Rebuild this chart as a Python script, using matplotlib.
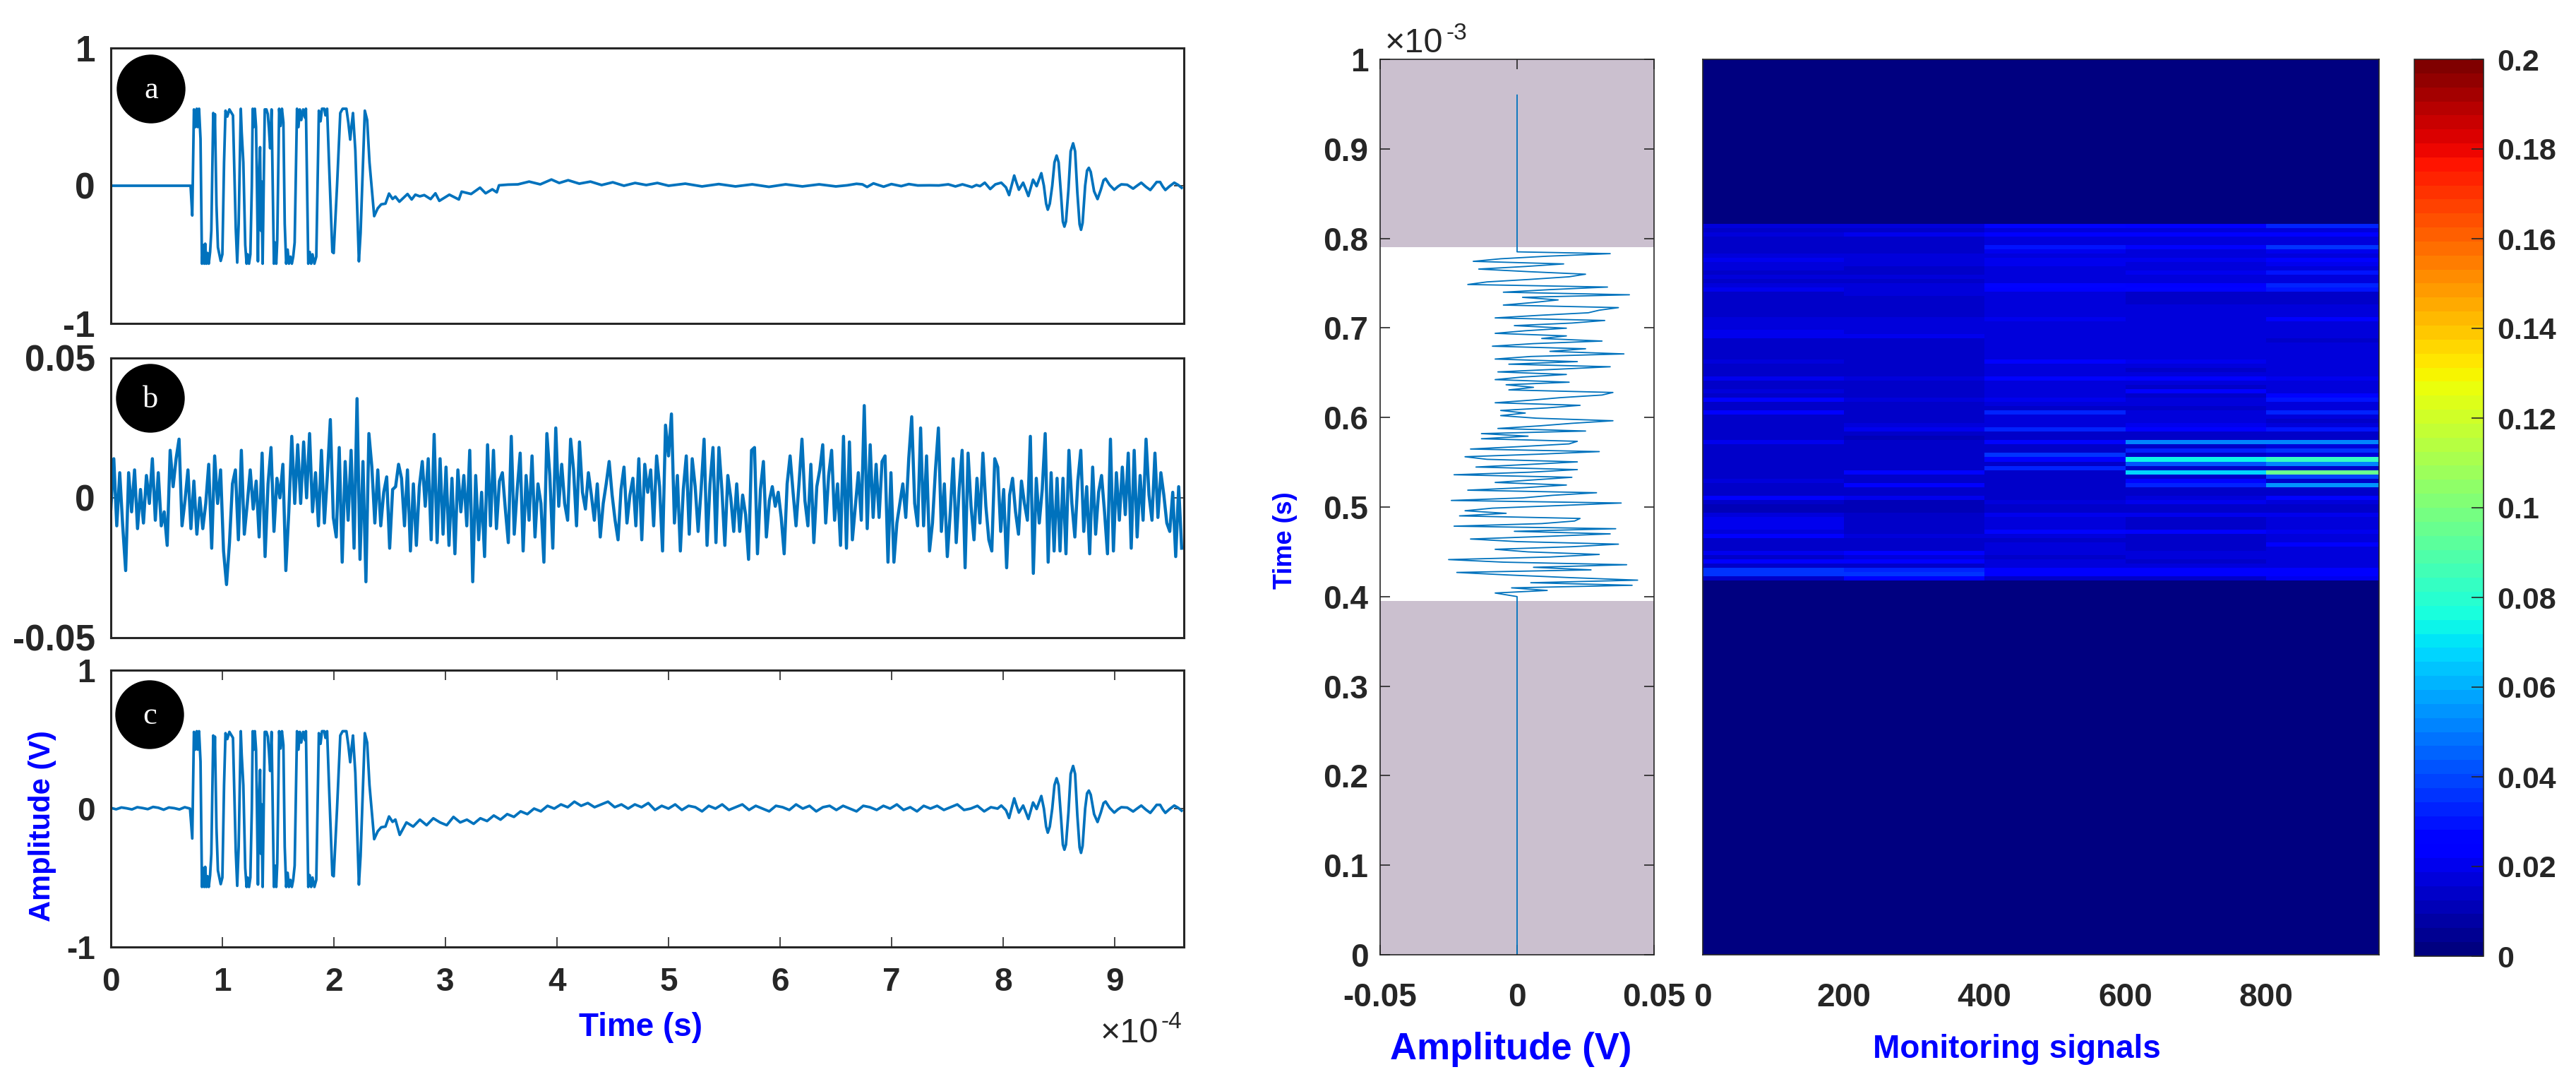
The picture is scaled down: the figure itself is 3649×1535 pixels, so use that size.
import numpy as np
import matplotlib
matplotlib.use("Agg")
import matplotlib.pyplot as plt
from matplotlib.patches import Ellipse

plt.rcParams['font.family'] = ['Liberation Sans', 'DejaVu Sans']
plt.rcParams['font.weight'] = 'bold'

# clean signal, time in 1e-4 s
a_time = [0, 0.652, 0.715, 0.730, 0.745, 0.757, 0.770, 0.779, 0.791, 0.804, 0.817, 0.829, 0.838, 0.846, 0.857, 0.867, 0.878, 0.890, 0.901, 0.918, 0.928, 0.933, 0.947, 0.960, 0.985, 1.000, 1.015, 1.028, 1.044, 1.063, 1.095, 1.120, 1.133, 1.146, 1.165, 1.173, 1.188, 1.205, 1.217, 1.226, 1.239, 1.251, 1.264, 1.272, 1.281, 1.291, 1.302, 1.310, 1.319, 1.327, 1.338, 1.346, 1.350, 1.361, 1.380, 1.395, 1.407, 1.418, 1.428, 1.441, 1.462, 1.471, 1.483, 1.492, 1.509, 1.521, 1.534, 1.547, 1.559, 1.572, 1.585, 1.597, 1.610, 1.623, 1.635, 1.648, 1.669, 1.682, 1.694, 1.707, 1.724, 1.741, 1.749, 1.770, 1.783, 1.796, 1.808, 1.825, 1.842, 1.865, 1.880, 1.893, 1.914, 1.924, 1.939, 1.956, 1.986, 1.998, 2.028, 2.057, 2.078, 2.112, 2.129, 2.146, 2.159, 2.171, 2.192, 2.224, 2.239, 2.277, 2.298, 2.319, 2.361, 2.393, 2.424, 2.462, 2.494, 2.526, 2.551]
a_amp = [0, 0, 0, -.216, .554, .426, .559, .426, .559, .340, -.566, -.430, -.566, -.421, -.566, -.489, -.566, -.481, -.327, .528, .323, .520, -.139, -.447, -.546, -.498, .169, .545, .502, .554, .511, -.310, -.558, -.276, .559, .391, .169, -.430, -.566, -.498, -.566, -.498, 0, .559, .426, .559, .426, 0, -.549, .032, .280, -.327, .032, -.566, .554, .554, .520, .408, .272, .554, -.566, -.412, -.566, -.395, .559, .434, .559, .460, -.276, -.566, -.464, -.566, -.515, -.566, -.515, -.412, .559, .426, .554, .477, .554, .494, .559, -.566, -.481, -.566, -.498, -.566, -.515, .545, .468, .559, .559, .511, .559, .169, -.481, -.489, 0, .528, .559, .559, .460, .335, .443, .528, .255, -.549, -.344, .545, .477, .169, -.221, -.164, -.135, -.130, -.057, -.096, -.079]
a_tail_time = [2.587, 2.66, 2.697, 2.73, 2.77, 2.81, 2.867, 2.91, 2.945, 3.035, 3.12, 3.145, 3.23, 3.31, 3.36, 3.42, 3.46, 3.48, 3.56, 3.65, 3.75, 3.85, 3.95, 4.02, 4.1, 4.2, 4.3, 4.4, 4.5, 4.6, 4.7, 4.8, 4.9, 5.0, 5.15, 5.3, 5.45, 5.6, 5.75, 5.9, 6.05, 6.2, 6.35, 6.5]
a_tail_amp = [-.116, -.06, -.10, -.065, -.077, -.068, -.097, -.055, -.11, -.065, -.10, -.043, -.06, -.014, -.055, -.026, -.048, .003, .008, .01, .03, .01, .045, .02, .04, .015, .03, .005, .025, 0, .02, .005, .02, 0, .015, -.005, .012, -.005, .01, -.008, .01, -.005, .01, -.005]
packet_time = [6.601, 6.685, 6.738, 6.78, 6.837, 6.928, 6.998, 7.086, 7.154, 7.234, 7.34, 7.424, 7.508, 7.572, 7.635, 7.72, 7.76, 7.793, 7.835, 7.884, 7.93, 7.983, 8.025, 8.053, 8.075, 8.099, 8.12, 8.141, 8.179, 8.205, 8.226, 8.268, 8.30, 8.342, 8.365, 8.385, 8.40, 8.418, 8.44, 8.46, 8.479, 8.497, 8.52, 8.535, 8.549, 8.563, 8.585, 8.605, 8.627, 8.645, 8.665, 8.685, 8.698, 8.712, 8.735, 8.752, 8.768, 8.785, 8.815, 8.846, 8.875, 8.90, 8.918, 8.955, 8.996, 9.03, 9.059, 9.112, 9.14, 9.165, 9.2, 9.238, 9.28, 9.319, 9.35, 9.376, 9.407, 9.43, 9.454, 9.49, 9.534, 9.57, 9.6]
packet_amp = [.003, .014, .01, -.009, .017, -.007, .012, -.003, .012, .002, .003, .002, .01, -.005, .01, -.01, .005, -.003, .022, -.024, .01, .022, -.012, -.068, .0, .074, .02, -.029, .022, -.03, -.075, .044, -.003, .091, .0, -.13, -.174, -.13, 0, .17, .219, .17, -.08, -.26, -.297, -.26, -.03, .25, .308, .25, -.05, -.28, -.32, -.27, 0, .11, .13, .10, -.04, -.097, -.03, .04, .051, .005, -.029, -.005, .01, .007, -.008, -.021, .0, .022, -.008, -.031, .0, .027, .027, -.005, -.031, -.005, .022, .005, -.015]

# noise panel, mV
b_mv = [-4, 14, -10, 9, -10, -26, 9, -5, 10, -11,
        3, -9, 8, -2, 14, -8, 9, -10, -5, -17,
        17, 4, 14, 21, -10, -1, 10, -11, 6, -13,
        0, -11, -2, 12, -18, 15, -2, 10, -19, -31,
        -16, 5, 10, -15, 17, -13, -2, 10, -4, 6,
        -14, 16, -21, 5, 18, -12, 7, 0, 12, -26,
        -5, 22, -2, 19, -2, 20, 0, 23, -5, 9,
        -10, 17, -9, 8, 28, -7, -14, 18, -23, 13,
        -8, 17, -18, 35.5, -22, 13, -30, 23, 11, -9,
        10, -10, 2, 7.5, -18, 3, 4, 12, 7, -10,
        10, -19, 5, -17, 4, 13, -3, 14, -15, 22.7,
        -16, 14, -13, 11, -17, 7, -20, 10, -5, 8,
        -10, 17, -30, 8, -15, 2, -21, 19, -10, 17,
        -11, 6, 9, -4, -16, 22, -13, 3, 16, -19,
        8, -8, 15, -14, 5, -2, -23, 23, 8, -18,
        25, -3, 12, -2, -8, 21, 10, -10, 20, 2,
        -4, 9, 1, -8, 5, -14, -2, 5, 13, 1,
        -8, -15, 3, 11, -9, 1, 7, -10, 14, -15,
        12, 2, 10, -10, 15, 4, -19, 26, 15, 30,
        -9, 8, -19, 3, 15, -13, 14, 4, -12, 3,
        21, -17, 5, 18, -16, 18, 3, -17, 8, 0,
        -12, 5, -12, 1, -6, -22, 17, 18, -20, 3,
        13, -14, -1, 4, -3, 2, -7, -20, 5, 15,
        2, -10, 5, 21, -1, -10, 12, -16, 4, 10,
        19, -9, 8, 17, -8, 5, -17, 22, -18, 20,
        -15, -3, 9, -8, 33, -11, 19, -7, 12, -7,
        13, 15, -23, 9, -23, -9, -2, 5, -7, 14,
        29, -2, -10, 25, -10, 15, -19, -9, 10, 25,
        -12, 5, -21, -5, 14, -16, 3, 17, -25, 16,
        -3, -15, 7, -9, 16, -3, -15, -19, 14, 11,
        -12, 3, -25, 1, 7, -5, -13, 6, -2, -8,
        22, -27, 7, -9, 3, 23, -23, 9, -19, 7,
        -19, 7, -20, 17, -2, -14, 6, 17, -12, 4,
        -20, 11, -13, 2, 8, -5, -20, 21, -19, 9,
        -8, 11, -6, 16, -18, 17, -14, 8, -8, 21,
        1, -8, 16, -7, 9, 1, -9, -12, 2, -21, 4, -18]

# noisy signal: own lead in and low tail, burst and packet follow the clean shape
c_lead = [.005, -.005, .008, .002, -.006, .01, .004, -.004, .012, .006, -.008, .008, .003, -.006, .01, .0]
c_low = [-.19, -.10, -.13, -.08, -.12, -.07, -.10, -.12, -.06, -.10, -.08, -.11, -.07, -.09, -.05, -.08, -.04, -.06, -.02, -.04, 0, -.02, .02, .0, .03, .01, .05, .02, .04, .01, .03, .05, .01, .03, 0, .03, .01, .04, -.01, .02, 0, .03, -.01, .02, .01, -.02, .02, 0, .03, -.01, .01, .03, -.01, .02, 0, -.02, .02, .01, -.01, .03, 0, .02, -.02, .01, .02, -.01, .02, 0, -.02, .02, .01, -.01, .02, 0, .03, -.01, .01, -.02, .02, 0, .02, -.01, .01, .03, -.01, 0, .02, -.02, .01, 0]

# recorded trace of the monitoring signal, mV from low to high time
d_mv = [-8, 11, -2, 42, 5, 44, 19, -3, -22, 27, 6, 40, -5, -25, 12, 30, 4, -8, 20, 37, 0, -17, 10, 34, -1, 36, -23, 9, 21, 23, -21, -4, -19, -9, 15, 38, -24, 2, 13, 29, -18, 3, 18, -8, 6, 20, -23, 5, 22, -15, 4, 22, -11, -19, 8, 30, -17, 2, 19, 22, -13, 4, -13, 25, -7, 8, 20, 35, 7, -6, 3, -6, 11, 23, -8, 5, 16, 31, 35, -3, 6, -4, 19, -8, 2, 18, -7, 14, 34, -3, 22, -8, 5, 39, 12, 25, -9, 6, 31, 9, 18, -8, 3, 18, -1, 20, 32, -8, 8, 26, 30, 37, -5, 6, 15, 2, 41, -5, 12, 33, -18, -11, 5, 19, 25, 4, -14, 3, 17, -16, -6, 11, 34]

# heat map rows from high to low time, 1e-3 units, one list per block of monitoring signals
heat_0_200 = [17, 15, 16, 15, 15, 15, 15, 16, 19, 17, 16, 15, 16, 15, 17, 19, 15, 14, 15, 15, 14, 15, 17, 16, 17, 20, 19, 13, 14, 13, 13, 14, 16, 14, 13, 15, 20, 15, 13, 16, 15, 24, 15, 13, 22, 14, 13, 15, 15, 14, 13, 19, 13, 15, 14, 13, 14, 14, 13, 15, 16, 14, 13, 14, 24, 13, 11, 11, 16, 19, 19, 19, 16, 24, 15, 15, 14, 20, 15, 24, 14, 35, 35, 13]
heat_200_400 = [16, 15, 19, 15, 15, 15, 15, 16, 17, 16, 15, 15, 16, 15, 16, 17, 16, 15, 15, 15, 15, 15, 17, 16, 16, 17, 19, 13, 14, 14, 13, 13, 15, 14, 13, 13, 17, 14, 13, 14, 13, 17, 14, 13, 15, 14, 13, 16, 19, 13, 12, 15, 13, 14, 14, 15, 14, 15, 26, 14, 14, 22, 14, 13, 20, 12, 11, 11, 14, 15, 15, 15, 15, 17, 14, 14, 15, 24, 16, 22, 15, 33, 35, 24]
heat_400_600 = [26, 16, 23, 17, 16, 29, 19, 17, 20, 19, 17, 17, 17, 16, 26, 22, 16, 16, 16, 16, 16, 16, 20, 17, 17, 16, 16, 16, 17, 16, 16, 17, 24, 16, 16, 16, 28, 17, 16, 17, 16, 20, 16, 15, 33, 17, 16, 16, 33, 15, 14, 28, 14, 14, 36, 22, 13, 33, 15, 13, 15, 15, 13, 14, 14, 16, 13, 13, 20, 16, 16, 16, 26, 16, 15, 17, 16, 17, 15, 17, 16, 24, 22, 15]
heat_600_800 = [22, 17, 22, 16, 17, 28, 17, 16, 20, 17, 16, 20, 16, 16, 24, 26, 15, 15, 15, 16, 16, 16, 17, 16, 16, 16, 16, 16, 17, 16, 16, 16, 19, 16, 15, 16, 23, 16, 15, 22, 15, 16, 16, 15, 16, 17, 16, 19, 22, 14, 13, 52, 15, 32, 13, 74, 42, 14, 67, 15, 26, 34, 13, 13, 16, 19, 13, 13, 20, 14, 15, 15, 24, 15, 14, 15, 15, 16, 16, 15, 16, 24, 22, 15]
heat_800_960 = [32, 17, 24, 16, 17, 36, 20, 17, 24, 20, 17, 30, 16, 16, 32, 30, 15, 15, 15, 16, 16, 16, 24, 17, 16, 16, 16, 15, 17, 16, 16, 17, 17, 16, 16, 17, 19, 17, 16, 16, 28, 30, 16, 16, 32, 17, 15, 16, 30, 15, 13, 52, 17, 36, 16, 84, 52, 15, 94, 38, 15, 54, 15, 14, 26, 17, 14, 15, 20, 16, 16, 16, 20, 16, 16, 24, 16, 16, 16, 16, 16, 24, 24, 20]
signal_edges = [0, 200, 400, 600, 800, 960]

left_xticks = [0, 1, 2, 3, 4, 5, 6, 7, 8, 9]
time_ticks = [0, .1, .2, .3, .4, .5, .6, .7, .8, .9, 1]
time_labels = ['0', '0.1', '0.2', '0.3', '0.4', '0.5', '0.6', '0.7', '0.8', '0.9', '1']
cbar_ticks = [0, .02, .04, .06, .08, .1, .12, .14, .16, .18, .2]
cbar_labels = ['0', '0.02', '0.04', '0.06', '0.08', '0.1', '0.12', '0.14', '0.16', '0.18', '0.2']

W, H = 3649, 1535
LINE = '#0072BD'
DARK = '#262626'
BLUE = '#0000FF'
fig = plt.figure(figsize=(W / 100, H / 100), dpi=100)


def box(left, top, right, bottom):
    return fig.add_axes([left / W, 1 - bottom / H, (right - left) / W, (bottom - top) / H])


def badge(x, y, letter):
    fig.add_artist(Ellipse((x / W, 1 - y / H), 96 / W, 96 / H, transform=fig.transFigure, color='black', zorder=5))
    fig.text(x / W, 1 - (y + 2) / H, letter, color='white', family='Liberation Serif', weight='normal',
             fontsize=32, ha='center', va='center', zorder=6)


def power(x, y, exponent):
    fig.text(x / W, 1 - y / H, '\u00d710', color=DARK, fontsize=35, weight='normal', ha='left', va='center')
    fig.text((x + 86) / W, 1 - (y - 15) / H, exponent, color=DARK, fontsize=24, weight='normal', ha='left', va='center')


def style(ax, spine_width, tick_size):
    for s in ax.spines.values():
        s.set_linewidth(spine_width)
        s.set_color(DARK)
    ax.tick_params(direction='in', length=10, width=1.2, color=DARK, labelcolor=DARK,
                   labelsize=tick_size, top=True, right=True)


# left column
ax_a = box(157, 68, 1677, 458)
ax_a.plot(a_time + a_tail_time + packet_time, a_amp + a_tail_amp + packet_amp, color=LINE, lw=2.7)
ax_a.set_ylim(-1, 1)
ax_a.set_yticks([-1, 0, 1], ['-1', '0', '1'])

ax_b = box(157, 507, 1677, 903)
ax_b.plot(np.linspace(0, 9.6, len(b_mv)), np.array(b_mv) / 1000, color=LINE, lw=3.2)
ax_b.set_ylim(-.05, .05)
ax_b.set_yticks([-.05, 0, .05], ['-0.05', '0', '0.05'])

ax_c = box(157, 949, 1677, 1341)
c_time = list(np.linspace(0, .71, len(c_lead))) + a_time[3:] + list(np.linspace(2.59, 7.95, len(c_low))) + packet_time[21:]
c_amp = c_lead + a_amp[3:] + c_low + packet_amp[21:]
ax_c.plot(c_time, c_amp, color=LINE, lw=2.7)
ax_c.set_ylim(-1, 1)
ax_c.set_yticks([-1, 0, 1], ['-1', '0', '1'])

for ax in [ax_a, ax_b, ax_c]:
    ax.set_xlim(0, 9.62)
    style(ax, 2.2, 33)
    ax.set_xticks(left_xticks)
    ax.tick_params(axis='x', labelbottom=False)
    ax.tick_params(axis='y', pad=16)
ax_c.tick_params(axis='x', labelbottom=True, pad=20)
for ax in [ax_a, ax_b]:
    ax.tick_params(axis='x', length=0)
    ax.tick_params(axis='y', labelsize=37)

badge(214, 126, 'a')
badge(213, 564, 'b')
badge(212, 1012, 'c')
fig.text(907 / W, 1 - 1455 / H, 'Time (s)', color=BLUE, fontsize=33, ha='center', va='center')
fig.text(60 / W, 1 - 1170 / H, 'Amplitude (V)', color=BLUE, fontsize=30, rotation=90, ha='center', va='center')
power(1559, 1463, '-4')

# trace with grey bands
ax_d = box(1955, 84, 2343, 1352)
ax_d.axhspan(.79, 1, color='#CBC0CF', lw=0, zorder=0)
ax_d.axhspan(0, .395, color='#CBC0CF', lw=0, zorder=0)
d_time = np.linspace(.404, .783, len(d_mv))
ax_d.plot(np.r_[0, 0, np.array(d_mv) / 1000, 0, 0], np.r_[0, .40, d_time, .785, .96], color=LINE, lw=1.3)
ax_d.set_xlim(-.05, .05)
ax_d.set_ylim(0, 1)
ax_d.set_xticks([-.05, 0, .05], ['-0.05', '0', '0.05'])
ax_d.set_yticks(time_ticks, time_labels)
style(ax_d, 1.2, 33)
ax_d.tick_params(axis='x', pad=28)
ax_d.tick_params(axis='y', pad=12)
fig.text(2140 / W, 1 - 1486 / H, 'Amplitude (V)', color=BLUE, fontsize=38, ha='center', va='center')
fig.text(1820 / W, 1 - 765 / H, 'Time (s)', color=BLUE, fontsize=26, rotation=90, ha='center', va='center')
power(1962, 62, '-3')

# heat map
ax_h = box(2412, 84, 3370, 1352)
cmap = plt.get_cmap('jet', 64)
heat = np.column_stack([heat_0_200, heat_200_400, heat_400_600, heat_600_800, heat_800_960]) / 1000
time_edges = np.linspace(.8166, .418, heat.shape[0] + 1)
mesh = ax_h.pcolormesh(signal_edges, time_edges, heat, cmap=cmap, vmin=0, vmax=.2)
ax_h.set_facecolor(cmap(0))
ax_h.set_xlim(0, 960)
ax_h.set_ylim(0, 1)
ax_h.set_xticks([0, 200, 400, 600, 800], ['0', '200', '400', '600', '800'])
ax_h.set_yticks([])
style(ax_h, 1.2, 33)
ax_h.tick_params(axis='x', pad=28, top=False, length=0)
fig.text(2857 / W, 1 - 1486 / H, 'Monitoring signals', color=BLUE, fontsize=33, ha='center', va='center')

# colour bar
cax = box(3420, 84, 3518, 1354)
cbar = fig.colorbar(mesh, cax=cax)
cbar.set_ticks(cbar_ticks, labels=cbar_labels)
cbar.ax.tick_params(direction='in', length=12, width=1.2, color=DARK, labelcolor=DARK, labelsize=31, pad=14)
cbar.outline.set_linewidth(1.2)
cbar.outline.set_edgecolor(DARK)

fig.savefig('out.png', dpi=100)
